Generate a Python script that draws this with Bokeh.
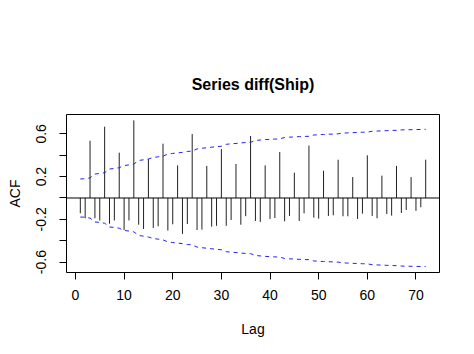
from bokeh.plotting import figure
from bokeh.models import Range1d, FixedTicker, Span
from bokeh.embed import file_html
from bokeh.resources import INLINE

title_text = "Series diff(Ship)"
x_label = "Lag"
y_label = "ACF"

lags = list(range(1, 73))
acf_vals = [
    -0.143, -0.19, 0.536, -0.19, -0.21, 0.667, -0.24, -0.21, 0.424, -0.30,
    -0.21, 0.726, -0.25, -0.29, 0.364, -0.28, -0.265, 0.508, -0.305, -0.246,
    0.305, -0.336, -0.243, 0.598, -0.30, -0.296, 0.30, -0.268, -0.26, 0.458,
    -0.26, -0.206, 0.318, -0.25, -0.17, 0.58, -0.215, -0.224, 0.305, -0.196,
    -0.187, 0.43, -0.218, -0.168, 0.237, -0.215, -0.143, 0.49, -0.184, -0.193,
    0.255, -0.168, -0.162, 0.358, -0.171, -0.171, 0.196, -0.196, -0.146, 0.399,
    -0.168, -0.19, 0.209, -0.15, -0.165, 0.30, -0.14, -0.112, 0.196, -0.12,
    -0.087, 0.358,
]
band_upper = [
    0.178, 0.180, 0.188, 0.224, 0.229, 0.236, 0.271, 0.276, 0.283, 0.304,
    0.309, 0.317, 0.351, 0.357, 0.365, 0.379, 0.385, 0.392, 0.411, 0.417,
    0.421, 0.427, 0.435, 0.439, 0.459, 0.465, 0.470, 0.475, 0.480, 0.484,
    0.502, 0.507, 0.510, 0.515, 0.519, 0.521, 0.538, 0.542, 0.546, 0.549,
    0.551, 0.553, 0.566, 0.569, 0.571, 0.574, 0.576, 0.577, 0.589, 0.592,
    0.594, 0.596, 0.598, 0.600, 0.607, 0.609, 0.611, 0.613, 0.615, 0.616,
    0.624, 0.626, 0.628, 0.630, 0.632, 0.633, 0.637, 0.638, 0.639, 0.640,
    0.641, 0.642,
]
band_lower = [-v for v in band_upper]

x_ticks = [0, 10, 20, 30, 40, 50, 60, 70]
y_ticks = [-0.6, -0.4, -0.2, 0.0, 0.2, 0.4, 0.6]
y_tick_labels = {-0.6: "-0.6", -0.4: "", -0.2: "-0.2", 0.0: "", 0.2: "0.2", 0.4: "", 0.6: "0.6"}

FONT = "Liberation Sans"

p = figure(
    width=474, height=354, output_backend="svg", toolbar_location=None,
    x_range=Range1d(-1.84, 74.84), y_range=Range1d(-0.697, 0.781),
    min_border_left=66, min_border_right=35, min_border_top=114, min_border_bottom=82,
    background_fill_color="white", border_fill_color="white",
    outline_line_color="black", outline_line_width=1,
)
p.grid.visible = False

p.title.text = title_text
p.title.align = "center"
p.title.text_font = FONT
p.title.text_font_size = "16px"
p.title.text_font_style = "bold"
p.title.text_color = "black"
p.title.standoff = 44

p.add_layout(Span(location=0, dimension="width", line_color="black", line_width=1))
p.segment(x0=lags, y0=[0] * len(lags), x1=lags, y1=acf_vals, line_color="#222222", line_width=1)
p.line(lags, band_upper, line_color="#2222ee", line_dash="4 4", line_width=1)
p.line(lags, band_lower, line_color="#2222ee", line_dash="4 4", line_width=1)

p.xaxis.ticker = FixedTicker(ticks=x_ticks)
p.yaxis.ticker = FixedTicker(ticks=y_ticks)
p.yaxis.major_label_overrides = y_tick_labels
p.yaxis.major_label_orientation = "vertical"
p.xaxis.axis_label = x_label
p.yaxis.axis_label = y_label

for ax in (p.xaxis[0], p.yaxis[0]):
    ax.axis_line_color = None
    ax.major_tick_in = 0
    ax.major_tick_out = 7
    ax.major_tick_line_color = "black"
    ax.minor_tick_line_color = None
    ax.major_label_text_font = FONT
    ax.major_label_text_font_size = "14px"
    ax.major_label_text_color = "black"
    ax.axis_label_text_font = FONT
    ax.axis_label_text_font_size = "14px"
    ax.axis_label_text_font_style = "normal"
    ax.axis_label_text_color = "black"

p.xaxis.major_label_standoff = 10
p.xaxis.axis_label_standoff = 18
p.yaxis.major_label_standoff = 13
p.yaxis.axis_label_standoff = 11

open("out.html", "w").write(file_html(p, INLINE))
